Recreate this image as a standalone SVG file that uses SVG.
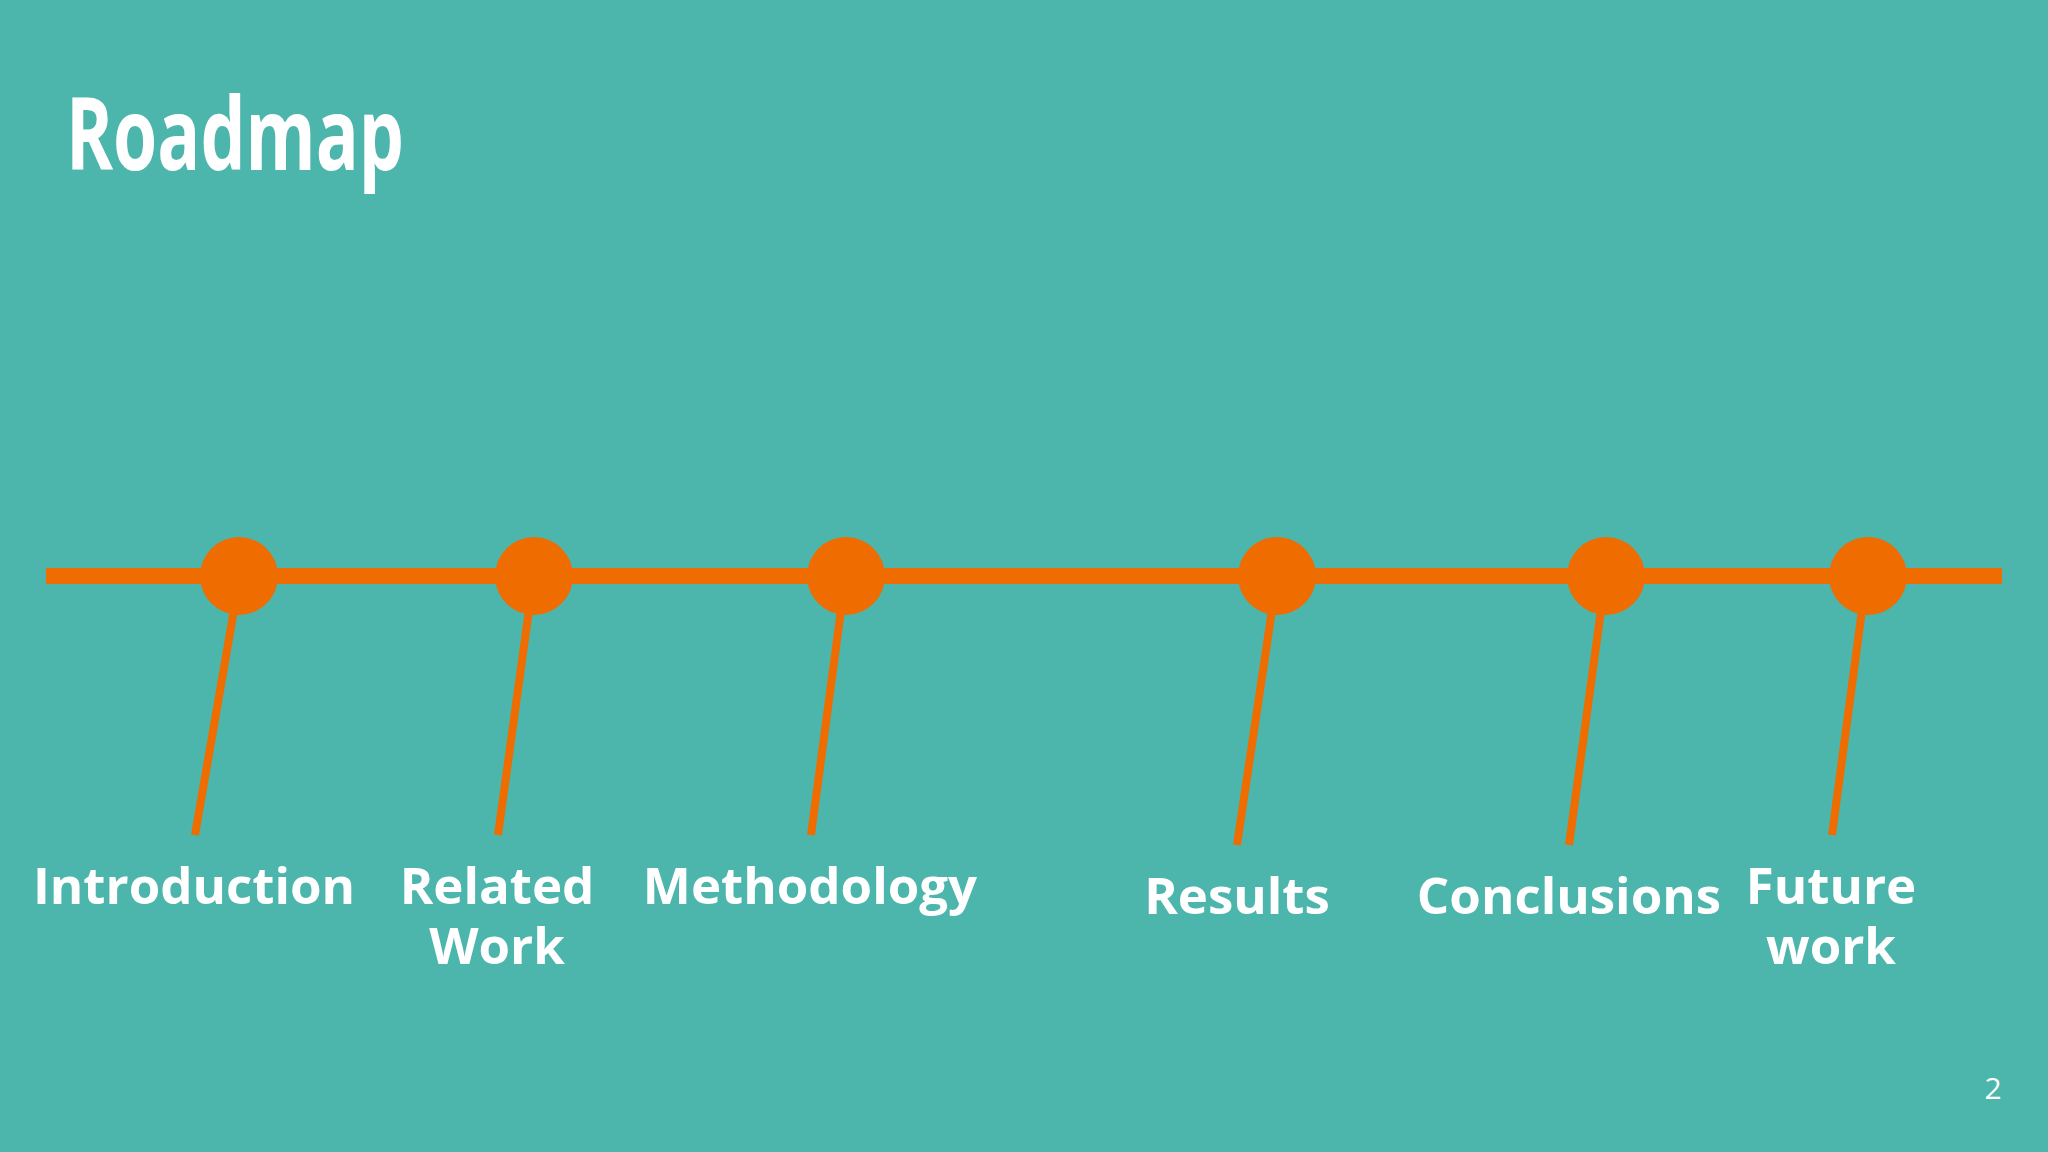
<svg xmlns="http://www.w3.org/2000/svg" width="2048" height="1152" viewBox="0 0 2048 1152">
<style>
.lbl{font-family:"Open Sans","DejaVu Sans",sans-serif;font-weight:700;font-size:51px;fill:#ffffff;text-anchor:middle}
.stem{stroke:#ef6c00;stroke-width:8;fill:none}
.dot{fill:#ef6c00}
</style>
<rect x="0" y="0" width="2048" height="1152" fill="#4db6ac"/>
<text id="title" x="66" y="170" font-family="'Open Sans','DejaVu Sans',sans-serif" font-weight="700" font-size="100" fill="#ffffff" textLength="338" lengthAdjust="spacingAndGlyphs">Roadmap</text>
<g id="connectors">
<rect x="46" y="568" width="1956" height="16" fill="#ef6c00"/>
<line class="stem" x1="234" y1="610" x2="195" y2="835"/>
<line class="stem" x1="529" y1="610" x2="498" y2="835"/>
<line class="stem" x1="841" y1="610" x2="811" y2="835"/>
<line class="stem" x1="1272" y1="610" x2="1237" y2="845"/>
<line class="stem" x1="1601" y1="610" x2="1569" y2="845"/>
<line class="stem" x1="1862" y1="610" x2="1832" y2="835"/>
</g>
<g id="n1"><circle class="dot" cx="239" cy="576" r="39"/><text class="lbl" x="194" y="904">Introduction</text></g>
<g id="n2"><circle class="dot" cx="534" cy="576" r="39"/><text class="lbl" x="497" y="904">Related</text><text class="lbl" x="497" y="964">Work</text></g>
<g id="n3"><circle class="dot" cx="846" cy="576" r="39"/><text class="lbl" x="810" y="904">Methodology</text></g>
<g id="n4"><circle class="dot" cx="1277" cy="576" r="39"/><text class="lbl" x="1237" y="914">Results</text></g>
<g id="n5"><circle class="dot" cx="1606" cy="576" r="39"/><text class="lbl" x="1569" y="914">Conclusions</text></g>
<g id="n6"><circle class="dot" cx="1868" cy="576" r="39"/><text class="lbl" x="1831" y="904">Future</text><text class="lbl" x="1831" y="964">work</text></g>
<text id="page" x="1993" y="1099" font-family="'Open Sans','DejaVu Sans',sans-serif" font-size="30" fill="#ffffff" text-anchor="middle">2</text>
</svg>
